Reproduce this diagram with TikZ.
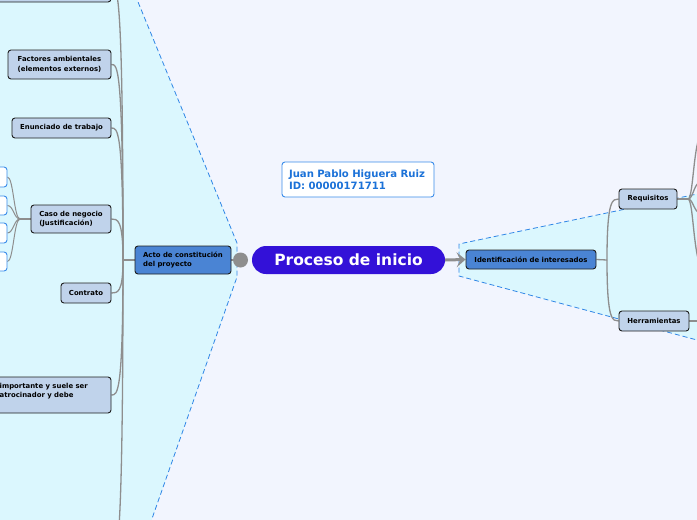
\documentclass[tikz,border=0pt]{standalone}
\usepackage{fontspec}
\setmainfont{DejaVu Sans}
\usetikzlibrary{arrows.meta}
\definecolor{bgcol}{HTML}{F2F5FE}
\definecolor{regionfill}{HTML}{DBF7FE}
\definecolor{dashblue}{HTML}{2F86E6}
\definecolor{lightfill}{HTML}{C0D3EB}
\definecolor{midfill}{HTML}{4A84D4}
\definecolor{centralfill}{HTML}{3311D8}
\definecolor{conncol}{HTML}{8E8E8E}
\definecolor{namecol}{HTML}{1C72D8}
\definecolor{nameborder}{HTML}{3A8CEA}
\definecolor{edgecol}{HTML}{1E1E1E}
\pgfdeclarelayer{back}
\pgfsetlayers{back,main}
\begin{document}
\begin{tikzpicture}[x=1pt,y=-1pt,
 box/.style={draw=edgecol, line width=0.9pt, rounded corners=3pt, inner sep=0pt, font=\fontsize{6.9}{9.5}\selectfont\bfseries, align=left, text=black},
 lightbox/.style={box, fill=lightfill},
 midbox/.style={box, fill=midfill},
 whitebox/.style={draw=nameborder, line width=0.9pt, fill=white, rounded corners=3pt, inner sep=0pt},
 connector/.style={draw=conncol, line width=1.3pt},
 zone/.style={fill=regionfill},
 zoneedge/.style={draw=dashblue, line width=0.8pt, dash pattern=on 5pt off 3pt},
]
\useasboundingbox (0,0) rectangle (697,520);
\begin{pgfonlayer}{back}
\fill[bgcol] (0,0) rectangle (697,520);
\fill[zone] (-5,-20) -- (129,-20) -- (237,243) -- (237,277) -- (148,530) -- (-5,530) -- cycle;
\draw[zoneedge] (129,-20) -- (237,243) -- (237,277) -- (148,530);
\fill[zone] (459,244) -- (710,191.3) -- (710,343.5) -- (459,276) -- cycle;
\draw[zoneedge] (710,191.3) -- (459,244) -- (459,276) -- (710,343.5);
\end{pgfonlayer}

% left children
\node[lightbox, minimum width=131pt, minimum height=32pt] (topbox) at (45.5,-14) {};
\node[lightbox, minimum width=103pt, minimum height=29pt, align=center] (factores) at (59.5,64.5) {Factores ambientales\\(elementos externos)};
\node[lightbox, minimum width=99pt, minimum height=20pt] (enunciado) at (61.5,128) {Enunciado de trabajo};
\node[lightbox, minimum width=80pt, minimum height=28pt] (caso) at (71,219) {Caso de negocio\\(Justificación)};
\node[lightbox, minimum width=50pt, minimum height=20pt] (contrato) at (86,293) {Contrato};
\node[lightbox, minimum width=131pt, minimum height=36pt] (bigbox) at (45.5,395) {};
\node[font=\fontsize{6.9}{8.3}\selectfont\bfseries, anchor=north west, inner sep=0pt, align=left] (bigtext) at (-0.5,383.5) {importante y suele ser\\atrocinador y debe};
\coordinate (below) at (111,560);

% caso children
\node[whitebox, minimum width=27pt, minimum height=20pt] (w1) at (-6.5,177) {};
\node[whitebox, minimum width=27pt, minimum height=19pt] (w2) at (-6.5,205.5) {};
\node[whitebox, minimum width=27pt, minimum height=20pt] (w3) at (-6.5,233) {};
\node[whitebox, minimum width=27pt, minimum height=19pt] (w4) at (-6.5,261.5) {};

% main
\node[midbox, minimum width=96pt, minimum height=28pt] (acto) at (183,260) {Acto de constitución\\del proyecto};
\node[circle, fill=conncol, minimum size=15pt, inner sep=0pt] (dot) at (240.5,260) {};
\node[fill=centralfill, rounded corners=14pt, minimum width=193pt, minimum height=28pt, inner sep=0pt, text=white, font=\fontsize{15.5}{15.5}\selectfont\bfseries] (central) at (348.5,260) {Proceso de inicio};
\node[whitebox, minimum width=152pt, minimum height=35pt, text width=138pt, align=left, font=\fontsize{10.1}{12.5}\selectfont\bfseries, text=namecol] (name) at (358,179.5) {Juan Pablo Higuera Ruiz\\ID: 00000171711};

% right
\node[midbox, minimum width=130pt, minimum height=19pt] (ident) at (531,259.5) {Identificación de interesados};
\node[lightbox, minimum width=58pt, minimum height=20pt] (req) at (648,199) {Requisitos};
\node[lightbox, minimum width=70pt, minimum height=20pt] (herr) at (654,321) {Herramientas};
\coordinate (r1) at (705,130);
\coordinate (r2) at (705,180);
\coordinate (r3) at (705,215);
\coordinate (r4) at (705,270);
\coordinate (h1) at (705,321);

\begin{pgfonlayer}{back}
\coordinate (J) at (123,260);
\draw[connector] (acto.west) -- (J);
\foreach \c in {topbox,factores,enunciado,caso,contrato,bigbox}
  \draw[connector] (J) .. controls (J |- \c.east) and ([xshift=6pt]\c.east) .. (\c.east);
\draw[connector] (J) .. controls (J |- below) and ([xshift=6pt]below) .. (below);
\coordinate (K) at (20,219);
\draw[connector] (caso.west) -- (K);
\foreach \c in {w1,w2,w3,w4}
  \draw[connector, line width=1pt] (K) .. controls ([xshift=-6pt]K) and ([xshift=6pt]\c.east) .. (\c.east);
\draw[connector] (acto.east) -- (dot);
\draw[conncol, line width=3pt, -{Stealth[length=9pt,width=15pt,inset=4pt]}] (central.east) -- (ident.west);
\coordinate (R) at (607,260);
\draw[connector] (ident.east) -- (R);
\draw[connector] (R) .. controls (R |- req.west) and ([xshift=-6pt]req.west) .. (req.west);
\draw[connector] (R) .. controls (R |- herr.west) and ([xshift=-6pt]herr.west) .. (herr.west);
\coordinate (Q) at (688,199);
\draw[connector] (req.east) -- (Q);
\foreach \c in {r1,r2,r3,r4}
  \draw[connector] (Q) .. controls ([xshift=6pt]Q) and ([xshift=-12pt]\c) .. (\c);
\draw[connector] (herr.east) -- (h1);
\end{pgfonlayer}
\end{tikzpicture}
\end{document}
